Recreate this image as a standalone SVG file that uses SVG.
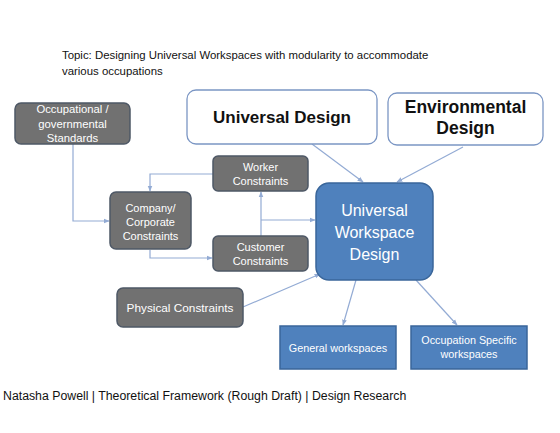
<svg xmlns="http://www.w3.org/2000/svg" width="560" height="433" viewBox="0 0 560 433">
<style>
text{font-family:"Liberation Sans",Arial,sans-serif}
.g{fill:#717171;stroke:#4e5866;stroke-width:1.5}
.w{fill:#fff;stroke:#7b96c4;stroke-width:1.3}
.b{fill:#4f81bd;stroke:#3a669a;stroke-width:1.5}
.tw{fill:#fff;text-anchor:middle}
.tk{fill:#111;text-anchor:middle;font-weight:bold}
.c{fill:none;stroke:#93abd4;stroke-width:1.2}
</style>
<defs>
<marker id="a" viewBox="0 0 10 10" refX="9" refY="5" markerWidth="6" markerHeight="6" orient="auto" markerUnits="userSpaceOnUse">
<path d="M0,1 L10,5 L0,9 z" fill="#93abd4"/>
</marker>
</defs>
<rect width="560" height="433" fill="#fff"/>
<text x="62" y="59" font-size="11.4" fill="#111">Topic: Designing Universal Workspaces with modularity to accommodate</text>
<text x="62" y="75" font-size="11.4" fill="#111">various occupations</text>

<g id="connectors">
<path class="c" d="M73,144 V221 H109" marker-end="url(#a)"/>
<path class="c" d="M213,174 H150 V191" marker-end="url(#a)"/>
<path class="c" d="M150,250 V258 H212" marker-end="url(#a)"/>
<path class="c" d="M261,236 V192" marker-end="url(#a)"/>
<path class="c" d="M261,220 H315" marker-end="url(#a)"/>
<path class="c" d="M312,144 L363,182" marker-end="url(#a)"/>
<path class="c" d="M463,147 L397,182" marker-end="url(#a)"/>
<path class="c" d="M243,307 L320,274" marker-end="url(#a)"/>
<path class="c" d="M356,280 L343,325" marker-end="url(#a)"/>
<path class="c" d="M416,280 L457,325" marker-end="url(#a)"/>
</g>

<g id="occupational">
<rect class="g" x="15" y="103" width="115" height="41" rx="6"/>
<text class="tw" x="72.5" y="113" font-size="11.3">Occupational /</text>
<text class="tw" x="72.5" y="127.5" font-size="11.3">governmental</text>
<text class="tw" x="72.5" y="142" font-size="11.3">Standards</text>
</g>

<g id="universal-design">
<rect class="w" x="187" y="90" width="190" height="54" rx="9"/>
<text class="tk" x="282" y="123" font-size="17">Universal Design</text>
</g>

<g id="environmental-design">
<rect class="w" x="388" y="93" width="155" height="52" rx="9"/>
<text class="tk" x="465.5" y="113" font-size="17.5">Environmental</text>
<text class="tk" x="465.5" y="134" font-size="17.5">Design</text>
</g>

<g id="company">
<rect class="g" x="110" y="192" width="81" height="57" rx="6"/>
<text class="tw" x="150.5" y="212" font-size="11">Company/</text>
<text class="tw" x="150.5" y="226" font-size="11">Corporate</text>
<text class="tw" x="150.5" y="240" font-size="11">Constraints</text>
</g>

<g id="worker">
<rect class="g" x="213" y="156" width="95" height="35" rx="5"/>
<text class="tw" x="260.5" y="171" font-size="11">Worker</text>
<text class="tw" x="260.5" y="185" font-size="11">Constraints</text>
</g>

<g id="customer">
<rect class="g" x="213" y="236" width="95" height="35" rx="5"/>
<text class="tw" x="260.5" y="251" font-size="11">Customer</text>
<text class="tw" x="260.5" y="265" font-size="11">Constraints</text>
</g>

<g id="universal-workspace-design">
<rect class="b" x="316" y="183" width="117" height="97" rx="13"/>
<text class="tw" x="374.5" y="216" font-size="16">Universal</text>
<text class="tw" x="374.5" y="238" font-size="16">Workspace</text>
<text class="tw" x="374.5" y="260" font-size="16">Design</text>
</g>

<g id="physical">
<rect class="g" x="117" y="288" width="126" height="39" rx="6"/>
<text class="tw" x="180" y="312" font-size="11.8">Physical Constraints</text>
</g>

<g id="general">
<rect class="b" x="280" y="326" width="116" height="43"/>
<text class="tw" x="338" y="352" font-size="10.8">General workspaces</text>
</g>

<g id="occupation-specific">
<rect class="b" x="411" y="326" width="116" height="43"/>
<text class="tw" x="469" y="344" font-size="10.8">Occupation Specific</text>
<text class="tw" x="469" y="358" font-size="10.8">workspaces</text>
</g>

<text x="3" y="400" font-size="12.3" fill="#111">Natasha Powell | Theoretical Framework (Rough Draft) | Design Research</text>
</svg>
